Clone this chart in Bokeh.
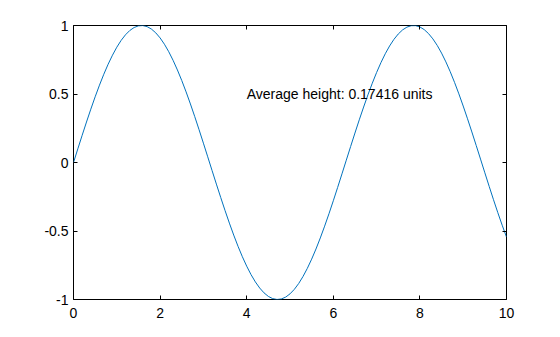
from bokeh.plotting import figure
from bokeh.models import Range1d, LinearAxis, FixedTicker, Label
from bokeh.embed import file_html
from bokeh.resources import INLINE

x_vals = [round(i * 0.1, 1) for i in range(101)]
y_vals = [0.0, 0.0998, 0.1987, 0.2955, 0.3894, 0.4794, 0.5646, 0.6442, 0.7174, 0.7833,
          0.8415, 0.8912, 0.9320, 0.9636, 0.9854, 0.9975, 0.9996, 0.9917, 0.9738, 0.9463,
          0.9093, 0.8632, 0.8085, 0.7457, 0.6755, 0.5985, 0.5155, 0.4274, 0.3350, 0.2392,
          0.1411, 0.0416, -0.0584, -0.1577, -0.2555, -0.3508, -0.4425, -0.5298, -0.6119, -0.6878,
          -0.7568, -0.8183, -0.8716, -0.9162, -0.9516, -0.9775, -0.9937, -0.9999, -0.9962, -0.9825,
          -0.9589, -0.9258, -0.8835, -0.8323, -0.7728, -0.7055, -0.6313, -0.5507, -0.4646, -0.3739,
          -0.2794, -0.1822, -0.0831, 0.0168, 0.1165, 0.2151, 0.3115, 0.4048, 0.4941, 0.5784,
          0.6570, 0.7290, 0.7937, 0.8504, 0.8987, 0.9380, 0.9679, 0.9882, 0.9985, 0.9989,
          0.9894, 0.9699, 0.9407, 0.9022, 0.8546, 0.7985, 0.7344, 0.6630, 0.5849, 0.5010,
          0.4121, 0.3191, 0.2229, 0.1245, 0.0248, -0.0752, -0.1743, -0.2718, -0.3665, -0.4575,
          -0.5440]
x_ticks = [0, 2, 4, 6, 8, 10]
y_ticks = [-1, -0.5, 0, 0.5, 1]
y_tick_labels = {-1: "-1", -0.5: "-0.5", 0: "0", 0.5: "0.5", 1: "1"}
annotation = "Average height: 0.17416 units"
ann_x, ann_y = 4, 0.5

FONT = "Liberation Sans"

p = figure(width=560, height=337, output_backend="svg", toolbar_location=None,
           x_range=Range1d(0, 10), y_range=Range1d(-1, 1),
           x_axis_location=None, y_axis_location=None,
           min_border_left=73, min_border_right=54, min_border_top=25, min_border_bottom=38)
p.grid.visible = False
p.outline_line_color = "black"
p.outline_line_width = 1
p.outline_line_alpha = 1
p.background_fill_color = "white"
p.border_fill_color = "white"

def make_axis(show_labels, vertical):
    ax = LinearAxis()
    ax.ticker = FixedTicker(ticks=y_ticks if vertical else x_ticks)
    if vertical:
        ax.major_label_overrides = y_tick_labels
    ax.major_tick_in = 4
    ax.major_tick_out = 0
    ax.minor_tick_in = 0
    ax.minor_tick_out = 0
    ax.axis_line_color = None
    ax.major_tick_line_color = "black"
    ax.major_label_text_font = FONT
    ax.major_label_text_font_size = "14px"
    ax.major_label_text_color = "black"
    ax.major_label_standoff = 5 if vertical else 8
    if not show_labels:
        ax.major_label_text_alpha = 0
        ax.major_label_text_font_size = "1px"
        ax.major_label_standoff = 0
    return ax

p.add_layout(make_axis(True, True), "left")
p.add_layout(make_axis(False, True), "right")
p.add_layout(make_axis(True, False), "below")
p.add_layout(make_axis(False, False), "above")

p.line(x_vals, y_vals, line_color="#0072BD", line_width=1)

p.add_layout(Label(x=ann_x, y=ann_y, text=annotation, text_font=FONT,
                   text_font_size="14px", text_color="black",
                   text_align="left", text_baseline="middle"))

open("out.html", "w").write(file_html(p, INLINE))
